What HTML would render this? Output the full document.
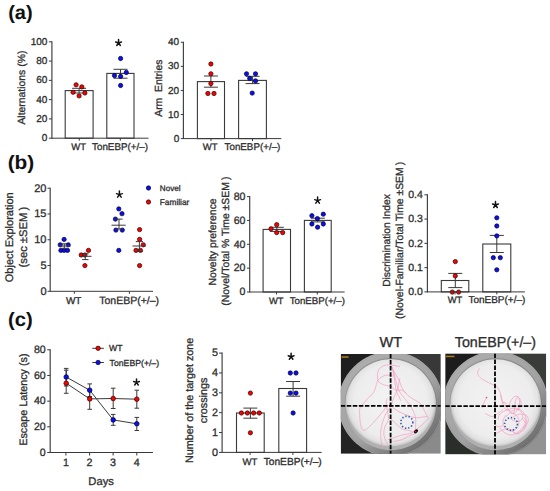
<!DOCTYPE html><html><head><meta charset="utf-8"><style>html,body{margin:0;padding:0;background:#fff;overflow:hidden}svg{display:block}</style></head><body>
<svg width="550" height="491" viewBox="0 0 550 491" font-family='"Liberation Sans", sans-serif' text-rendering="geometricPrecision">
<rect width="550" height="491" fill="#fff"/>
<text x="8.2" y="18.8" font-size="19.5" text-anchor="start" font-weight="bold" fill="#111" textLength="24.5" lengthAdjust="spacingAndGlyphs">(a)</text>
<text x="7.7" y="169.2" font-size="19.5" text-anchor="start" font-weight="bold" fill="#111" textLength="26.6" lengthAdjust="spacingAndGlyphs">(b)</text>
<text x="8.1" y="326.4" font-size="19.5" text-anchor="start" font-weight="bold" fill="#111" textLength="24.7" lengthAdjust="spacingAndGlyphs">(c)</text>
<rect x="65.2" y="90.6" width="27.89999999999999" height="47.599999999999994" fill="#fff" stroke="#3a3a3a" stroke-width="1.1"/>
<rect x="106.8" y="73.4" width="27.200000000000003" height="64.79999999999998" fill="#fff" stroke="#3a3a3a" stroke-width="1.1"/>
<line x1="79.1" y1="88.3" x2="79.1" y2="93.0" stroke="#3a3a3a" stroke-width="1"/>
<line x1="72.1" y1="88.3" x2="86.1" y2="88.3" stroke="#3a3a3a" stroke-width="1"/>
<line x1="72.1" y1="93.0" x2="86.1" y2="93.0" stroke="#3a3a3a" stroke-width="1"/>
<line x1="120.5" y1="69.3" x2="120.5" y2="78.2" stroke="#3a3a3a" stroke-width="1"/>
<line x1="113.5" y1="69.3" x2="127.5" y2="69.3" stroke="#3a3a3a" stroke-width="1"/>
<line x1="113.5" y1="78.2" x2="127.5" y2="78.2" stroke="#3a3a3a" stroke-width="1"/>
<circle cx="76.1" cy="84.8" r="2.15" fill="#fa0000" stroke="#2a0000" stroke-width="0.7"/>
<circle cx="81.8" cy="86.9" r="2.15" fill="#fa0000" stroke="#2a0000" stroke-width="0.7"/>
<circle cx="73.1" cy="92.3" r="2.15" fill="#fa0000" stroke="#2a0000" stroke-width="0.7"/>
<circle cx="84.9" cy="93" r="2.15" fill="#fa0000" stroke="#2a0000" stroke-width="0.7"/>
<circle cx="79.1" cy="95.9" r="2.15" fill="#fa0000" stroke="#2a0000" stroke-width="0.7"/>
<circle cx="120.6" cy="58.5" r="2.15" fill="#0c0cf5" stroke="#00002a" stroke-width="0.7"/>
<circle cx="126.3" cy="72.5" r="2.15" fill="#0c0cf5" stroke="#00002a" stroke-width="0.7"/>
<circle cx="114.5" cy="75.6" r="2.15" fill="#0c0cf5" stroke="#00002a" stroke-width="0.7"/>
<circle cx="120.6" cy="76.4" r="2.15" fill="#0c0cf5" stroke="#00002a" stroke-width="0.7"/>
<circle cx="120.6" cy="85.5" r="2.15" fill="#0c0cf5" stroke="#00002a" stroke-width="0.7"/>
<line x1="51.9" y1="41.3" x2="51.9" y2="138.7" stroke="#444" stroke-width="1.2"/>
<line x1="48.9" y1="138.2" x2="51.9" y2="138.2" stroke="#3a3a3a" stroke-width="1"/>
<text x="47.4" y="141.29999999999998" font-size="10" text-anchor="end" font-weight="normal" fill="#2e2e2e" stroke="#2e2e2e" stroke-width="0.3">0</text>
<line x1="48.9" y1="118.91999999999999" x2="51.9" y2="118.91999999999999" stroke="#3a3a3a" stroke-width="1"/>
<text x="47.4" y="122.01999999999998" font-size="10" text-anchor="end" font-weight="normal" fill="#2e2e2e" stroke="#2e2e2e" stroke-width="0.3">20</text>
<line x1="48.9" y1="99.63999999999999" x2="51.9" y2="99.63999999999999" stroke="#3a3a3a" stroke-width="1"/>
<text x="47.4" y="102.73999999999998" font-size="10" text-anchor="end" font-weight="normal" fill="#2e2e2e" stroke="#2e2e2e" stroke-width="0.3">40</text>
<line x1="48.9" y1="80.35999999999999" x2="51.9" y2="80.35999999999999" stroke="#3a3a3a" stroke-width="1"/>
<text x="47.4" y="83.45999999999998" font-size="10" text-anchor="end" font-weight="normal" fill="#2e2e2e" stroke="#2e2e2e" stroke-width="0.3">60</text>
<line x1="48.9" y1="61.08" x2="51.9" y2="61.08" stroke="#3a3a3a" stroke-width="1"/>
<text x="47.4" y="64.17999999999999" font-size="10" text-anchor="end" font-weight="normal" fill="#2e2e2e" stroke="#2e2e2e" stroke-width="0.3">80</text>
<line x1="48.9" y1="41.8" x2="51.9" y2="41.8" stroke="#3a3a3a" stroke-width="1"/>
<text x="47.4" y="44.9" font-size="10" text-anchor="end" font-weight="normal" fill="#2e2e2e" stroke="#2e2e2e" stroke-width="0.3">100</text>
<line x1="51.9" y1="138.2" x2="148.5" y2="138.2" stroke="#3a3a3a" stroke-width="1"/>
<line x1="79.3" y1="138.2" x2="79.3" y2="140.7" stroke="#3a3a3a" stroke-width="1"/>
<line x1="120.3" y1="138.2" x2="120.3" y2="140.7" stroke="#3a3a3a" stroke-width="1"/>
<path d="M118.55,42.94l0.00,-3.48M118.55,42.94l-2.89,-0.94M118.55,42.94l2.89,-0.94M118.55,42.94l-1.78,2.55M118.55,42.94l1.78,2.55" stroke="#111" stroke-width="1.5" stroke-linecap="round" fill="none"/>
<text x="25.3" y="87.6" font-size="10.4" text-anchor="middle" font-weight="normal" fill="#2e2e2e" stroke="#2e2e2e" stroke-width="0.3" transform="rotate(-90 25.3 87.6)">Alternations (%)</text>
<text x="78.6" y="150.2" font-size="9.5" text-anchor="middle" font-weight="normal" fill="#2e2e2e" stroke="#2e2e2e" stroke-width="0.3">WT</text>
<text x="120.0" y="150.2" font-size="9.8" text-anchor="middle" font-weight="normal" fill="#2e2e2e" stroke="#2e2e2e" stroke-width="0.3">TonEBP(+/&#8211;)</text>
<rect x="197.4" y="81.6" width="27.099999999999994" height="57.0" fill="#fff" stroke="#3a3a3a" stroke-width="1.1"/>
<rect x="238.6" y="80.4" width="27.799999999999983" height="58.19999999999999" fill="#fff" stroke="#3a3a3a" stroke-width="1.1"/>
<line x1="210.9" y1="76.0" x2="210.9" y2="87.2" stroke="#3a3a3a" stroke-width="1"/>
<line x1="203.9" y1="76.0" x2="217.9" y2="76.0" stroke="#3a3a3a" stroke-width="1"/>
<line x1="203.9" y1="87.2" x2="217.9" y2="87.2" stroke="#3a3a3a" stroke-width="1"/>
<line x1="252.6" y1="76.3" x2="252.6" y2="83.6" stroke="#3a3a3a" stroke-width="1"/>
<line x1="245.6" y1="76.3" x2="259.6" y2="76.3" stroke="#3a3a3a" stroke-width="1"/>
<line x1="245.6" y1="83.6" x2="259.6" y2="83.6" stroke="#3a3a3a" stroke-width="1"/>
<circle cx="210.9" cy="64" r="2.15" fill="#fa0000" stroke="#2a0000" stroke-width="0.7"/>
<circle cx="210.9" cy="73.8" r="2.15" fill="#fa0000" stroke="#2a0000" stroke-width="0.7"/>
<circle cx="210.9" cy="83.6" r="2.15" fill="#fa0000" stroke="#2a0000" stroke-width="0.7"/>
<circle cx="207.9" cy="93.5" r="2.15" fill="#fa0000" stroke="#2a0000" stroke-width="0.7"/>
<circle cx="214" cy="93.5" r="2.15" fill="#fa0000" stroke="#2a0000" stroke-width="0.7"/>
<circle cx="246.5" cy="73.8" r="2.15" fill="#0c0cf5" stroke="#00002a" stroke-width="0.7"/>
<circle cx="255.5" cy="73.8" r="2.15" fill="#0c0cf5" stroke="#00002a" stroke-width="0.7"/>
<circle cx="249.7" cy="78.4" r="2.15" fill="#0c0cf5" stroke="#00002a" stroke-width="0.7"/>
<circle cx="255.5" cy="80.9" r="2.15" fill="#0c0cf5" stroke="#00002a" stroke-width="0.7"/>
<circle cx="252.2" cy="93.1" r="2.15" fill="#0c0cf5" stroke="#00002a" stroke-width="0.7"/>
<line x1="183.4" y1="41.8" x2="183.4" y2="139.1" stroke="#444" stroke-width="1.2"/>
<line x1="180.8" y1="138.6" x2="183.4" y2="138.6" stroke="#3a3a3a" stroke-width="1"/>
<text x="179.20000000000002" y="141.7" font-size="10" text-anchor="end" font-weight="normal" fill="#2e2e2e" stroke="#2e2e2e" stroke-width="0.3">0</text>
<line x1="180.8" y1="114.52499999999999" x2="183.4" y2="114.52499999999999" stroke="#3a3a3a" stroke-width="1"/>
<text x="179.20000000000002" y="117.62499999999999" font-size="10" text-anchor="end" font-weight="normal" fill="#2e2e2e" stroke="#2e2e2e" stroke-width="0.3">10</text>
<line x1="180.8" y1="90.44999999999999" x2="183.4" y2="90.44999999999999" stroke="#3a3a3a" stroke-width="1"/>
<text x="179.20000000000002" y="93.54999999999998" font-size="10" text-anchor="end" font-weight="normal" fill="#2e2e2e" stroke="#2e2e2e" stroke-width="0.3">20</text>
<line x1="180.8" y1="66.375" x2="183.4" y2="66.375" stroke="#3a3a3a" stroke-width="1"/>
<text x="179.20000000000002" y="69.475" font-size="10" text-anchor="end" font-weight="normal" fill="#2e2e2e" stroke="#2e2e2e" stroke-width="0.3">30</text>
<line x1="180.8" y1="42.3" x2="183.4" y2="42.3" stroke="#3a3a3a" stroke-width="1"/>
<text x="179.20000000000002" y="45.4" font-size="10" text-anchor="end" font-weight="normal" fill="#2e2e2e" stroke="#2e2e2e" stroke-width="0.3">40</text>
<line x1="183.4" y1="138.6" x2="281.3" y2="138.6" stroke="#3a3a3a" stroke-width="1"/>
<line x1="211" y1="138.6" x2="211" y2="141.1" stroke="#3a3a3a" stroke-width="1"/>
<line x1="252.5" y1="138.6" x2="252.5" y2="141.1" stroke="#3a3a3a" stroke-width="1"/>
<text x="162.3" y="88.2" font-size="10.4" text-anchor="middle" font-weight="normal" fill="#2e2e2e" stroke="#2e2e2e" stroke-width="0.3" transform="rotate(-90 162.3 88.2)">Arm&#160;&#160;Entries</text>
<text x="210.2" y="150.2" font-size="9.5" text-anchor="middle" font-weight="normal" fill="#2e2e2e" stroke="#2e2e2e" stroke-width="0.3">WT</text>
<text x="252.45" y="150.2" font-size="9.8" text-anchor="middle" font-weight="normal" fill="#2e2e2e" stroke="#2e2e2e" stroke-width="0.3">TonEBP(+/&#8211;)</text>
<line x1="50.2" y1="187.7" x2="50.2" y2="291.8" stroke="#444" stroke-width="1.2"/>
<line x1="47.5" y1="291.3" x2="50.2" y2="291.3" stroke="#3a3a3a" stroke-width="1"/>
<text x="46.5" y="294.71000000000004" font-size="11" text-anchor="end" font-weight="normal" fill="#2e2e2e" stroke="#2e2e2e" stroke-width="0.3">0</text>
<line x1="47.5" y1="265.525" x2="50.2" y2="265.525" stroke="#3a3a3a" stroke-width="1"/>
<text x="46.5" y="268.935" font-size="11" text-anchor="end" font-weight="normal" fill="#2e2e2e" stroke="#2e2e2e" stroke-width="0.3">5</text>
<line x1="47.5" y1="239.75" x2="50.2" y2="239.75" stroke="#3a3a3a" stroke-width="1"/>
<text x="46.5" y="243.16" font-size="11" text-anchor="end" font-weight="normal" fill="#2e2e2e" stroke="#2e2e2e" stroke-width="0.3">10</text>
<line x1="47.5" y1="213.975" x2="50.2" y2="213.975" stroke="#3a3a3a" stroke-width="1"/>
<text x="46.5" y="217.385" font-size="11" text-anchor="end" font-weight="normal" fill="#2e2e2e" stroke="#2e2e2e" stroke-width="0.3">15</text>
<line x1="47.5" y1="188.2" x2="50.2" y2="188.2" stroke="#3a3a3a" stroke-width="1"/>
<text x="46.5" y="191.60999999999999" font-size="11" text-anchor="end" font-weight="normal" fill="#2e2e2e" stroke="#2e2e2e" stroke-width="0.3">20</text>
<line x1="50.2" y1="291.3" x2="153" y2="291.3" stroke="#3a3a3a" stroke-width="1"/>
<line x1="74.3" y1="291.3" x2="74.3" y2="293.8" stroke="#3a3a3a" stroke-width="1"/>
<line x1="129.4" y1="291.3" x2="129.4" y2="293.8" stroke="#3a3a3a" stroke-width="1"/>
<circle cx="64.1" cy="239.4" r="2.15" fill="#0c0cf5" stroke="#00002a" stroke-width="0.7"/>
<circle cx="60.2" cy="244.8" r="2.15" fill="#0c0cf5" stroke="#00002a" stroke-width="0.7"/>
<circle cx="68.2" cy="244.8" r="2.15" fill="#0c0cf5" stroke="#00002a" stroke-width="0.7"/>
<circle cx="60.9" cy="250.4" r="2.15" fill="#0c0cf5" stroke="#00002a" stroke-width="0.7"/>
<circle cx="64.1" cy="250.4" r="2.15" fill="#0c0cf5" stroke="#00002a" stroke-width="0.7"/>
<circle cx="67.5" cy="250.4" r="2.15" fill="#0c0cf5" stroke="#00002a" stroke-width="0.7"/>
<line x1="58.4" y1="246" x2="70.7" y2="246" stroke="#3a3a3a" stroke-width="1"/>
<line x1="64.3" y1="243.8" x2="64.3" y2="248.3" stroke="#3a3a3a" stroke-width="1"/>
<line x1="61.3" y1="243.8" x2="67.3" y2="243.8" stroke="#3a3a3a" stroke-width="1"/>
<line x1="61.3" y1="248.3" x2="67.3" y2="248.3" stroke="#3a3a3a" stroke-width="1"/>
<circle cx="88.5" cy="250.4" r="2.15" fill="#fa0000" stroke="#2a0000" stroke-width="0.7"/>
<circle cx="81.2" cy="255" r="2.15" fill="#fa0000" stroke="#2a0000" stroke-width="0.7"/>
<circle cx="84.9" cy="255" r="2.15" fill="#fa0000" stroke="#2a0000" stroke-width="0.7"/>
<circle cx="84.9" cy="265.6" r="2.15" fill="#fa0000" stroke="#2a0000" stroke-width="0.7"/>
<line x1="79.2" y1="256.3" x2="91.5" y2="256.3" stroke="#3a3a3a" stroke-width="1"/>
<line x1="85.3" y1="253.8" x2="85.3" y2="259.6" stroke="#3a3a3a" stroke-width="1"/>
<line x1="82.1" y1="253.8" x2="88.5" y2="253.8" stroke="#3a3a3a" stroke-width="1"/>
<line x1="82.1" y1="259.6" x2="88.5" y2="259.6" stroke="#3a3a3a" stroke-width="1"/>
<circle cx="118.8" cy="208.9" r="2.15" fill="#0c0cf5" stroke="#00002a" stroke-width="0.7"/>
<circle cx="122" cy="213.7" r="2.15" fill="#0c0cf5" stroke="#00002a" stroke-width="0.7"/>
<circle cx="115.4" cy="219.1" r="2.15" fill="#0c0cf5" stroke="#00002a" stroke-width="0.7"/>
<circle cx="115.9" cy="230.1" r="2.15" fill="#0c0cf5" stroke="#00002a" stroke-width="0.7"/>
<circle cx="122.3" cy="230.1" r="2.15" fill="#0c0cf5" stroke="#00002a" stroke-width="0.7"/>
<circle cx="118.8" cy="250.4" r="2.15" fill="#0c0cf5" stroke="#00002a" stroke-width="0.7"/>
<line x1="111.5" y1="225.2" x2="125.7" y2="225.2" stroke="#3a3a3a" stroke-width="1"/>
<line x1="119.0" y1="219.1" x2="119.0" y2="229.0" stroke="#3a3a3a" stroke-width="1"/>
<line x1="115.4" y1="219.1" x2="122.6" y2="219.1" stroke="#3a3a3a" stroke-width="1"/>
<line x1="115.4" y1="229.0" x2="122.6" y2="229.0" stroke="#3a3a3a" stroke-width="1"/>
<circle cx="139.6" cy="229.6" r="2.15" fill="#fa0000" stroke="#2a0000" stroke-width="0.7"/>
<circle cx="139.6" cy="239.4" r="2.15" fill="#fa0000" stroke="#2a0000" stroke-width="0.7"/>
<circle cx="143.3" cy="244.8" r="2.15" fill="#fa0000" stroke="#2a0000" stroke-width="0.7"/>
<circle cx="136" cy="250.4" r="2.15" fill="#fa0000" stroke="#2a0000" stroke-width="0.7"/>
<circle cx="140.4" cy="250.4" r="2.15" fill="#fa0000" stroke="#2a0000" stroke-width="0.7"/>
<circle cx="139.6" cy="265.6" r="2.15" fill="#fa0000" stroke="#2a0000" stroke-width="0.7"/>
<line x1="132.5" y1="246" x2="145.7" y2="246" stroke="#3a3a3a" stroke-width="1"/>
<line x1="139.4" y1="241.6" x2="139.4" y2="251.4" stroke="#3a3a3a" stroke-width="1"/>
<line x1="135.8" y1="241.6" x2="143.0" y2="241.6" stroke="#3a3a3a" stroke-width="1"/>
<line x1="135.8" y1="251.4" x2="143.0" y2="251.4" stroke="#3a3a3a" stroke-width="1"/>
<path d="M119.40,194.60l0.00,-3.48M119.40,194.60l-2.89,-0.94M119.40,194.60l2.89,-0.94M119.40,194.60l-1.78,2.55M119.40,194.60l1.78,2.55" stroke="#111" stroke-width="1.5" stroke-linecap="round" fill="none"/>
<circle cx="148.5" cy="188" r="2.15" fill="#0c0cf5" stroke="#00002a" stroke-width="0.7"/>
<text x="159.8" y="190.8" font-size="8.1" text-anchor="start" font-weight="normal" fill="#2e2e2e" stroke="#2e2e2e" stroke-width="0.3">Novel</text>
<circle cx="148.5" cy="202" r="2.15" fill="#fa0000" stroke="#2a0000" stroke-width="0.7"/>
<text x="159.8" y="204.6" font-size="8.3" text-anchor="start" font-weight="normal" fill="#2e2e2e" stroke="#2e2e2e" stroke-width="0.3">Familiar</text>
<text x="13.2" y="237.25" font-size="11.0" text-anchor="middle" font-weight="normal" fill="#2e2e2e" stroke="#2e2e2e" stroke-width="0.3" transform="rotate(-90 13.2 237.25)">Object Exploration</text>
<text x="27.2" y="237.1" font-size="11.2" text-anchor="middle" font-weight="normal" fill="#2e2e2e" stroke="#2e2e2e" stroke-width="0.3" transform="rotate(-90 27.2 237.1)">(sec &#177;SEM&#8201;)</text>
<text x="73.7" y="303.6" font-size="10" text-anchor="middle" font-weight="normal" fill="#2e2e2e" stroke="#2e2e2e" stroke-width="0.3">WT</text>
<text x="129.2" y="303.6" font-size="10.5" text-anchor="middle" font-weight="normal" fill="#2e2e2e" stroke="#2e2e2e" stroke-width="0.3">TonEBP(+/&#8211;)</text>
<rect x="263.1" y="229.4" width="27.399999999999977" height="62.599999999999994" fill="#fff" stroke="#3a3a3a" stroke-width="1.1"/>
<rect x="304.4" y="220.4" width="26.80000000000001" height="71.6" fill="#fff" stroke="#3a3a3a" stroke-width="1.1"/>
<line x1="276.8" y1="227.3" x2="276.8" y2="231.4" stroke="#3a3a3a" stroke-width="1"/>
<line x1="269.8" y1="227.3" x2="283.8" y2="227.3" stroke="#3a3a3a" stroke-width="1"/>
<line x1="269.8" y1="231.4" x2="283.8" y2="231.4" stroke="#3a3a3a" stroke-width="1"/>
<line x1="317.8" y1="218.2" x2="317.8" y2="221.9" stroke="#3a3a3a" stroke-width="1"/>
<line x1="310.8" y1="218.2" x2="324.8" y2="218.2" stroke="#3a3a3a" stroke-width="1"/>
<line x1="310.8" y1="221.9" x2="324.8" y2="221.9" stroke="#3a3a3a" stroke-width="1"/>
<circle cx="276.7" cy="224.7" r="2.15" fill="#fa0000" stroke="#2a0000" stroke-width="0.7"/>
<circle cx="271" cy="228.8" r="2.15" fill="#fa0000" stroke="#2a0000" stroke-width="0.7"/>
<circle cx="276.7" cy="232.6" r="2.15" fill="#fa0000" stroke="#2a0000" stroke-width="0.7"/>
<circle cx="282.7" cy="232.6" r="2.15" fill="#fa0000" stroke="#2a0000" stroke-width="0.7"/>
<circle cx="311.9" cy="215.7" r="2.15" fill="#0c0cf5" stroke="#00002a" stroke-width="0.7"/>
<circle cx="323.3" cy="214.2" r="2.15" fill="#0c0cf5" stroke="#00002a" stroke-width="0.7"/>
<circle cx="317.4" cy="218.6" r="2.15" fill="#0c0cf5" stroke="#00002a" stroke-width="0.7"/>
<circle cx="311.9" cy="224" r="2.15" fill="#0c0cf5" stroke="#00002a" stroke-width="0.7"/>
<circle cx="323.3" cy="224" r="2.15" fill="#0c0cf5" stroke="#00002a" stroke-width="0.7"/>
<circle cx="317.6" cy="227.2" r="2.15" fill="#0c0cf5" stroke="#00002a" stroke-width="0.7"/>
<line x1="249.7" y1="196.1" x2="249.7" y2="292.5" stroke="#444" stroke-width="1.2"/>
<line x1="247.0" y1="292.0" x2="249.7" y2="292.0" stroke="#3a3a3a" stroke-width="1"/>
<text x="245.5" y="295.286" font-size="10.6" text-anchor="end" font-weight="normal" fill="#2e2e2e" stroke="#2e2e2e" stroke-width="0.3">0</text>
<line x1="247.0" y1="268.15" x2="249.7" y2="268.15" stroke="#3a3a3a" stroke-width="1"/>
<text x="245.5" y="271.436" font-size="10.6" text-anchor="end" font-weight="normal" fill="#2e2e2e" stroke="#2e2e2e" stroke-width="0.3">20</text>
<line x1="247.0" y1="244.3" x2="249.7" y2="244.3" stroke="#3a3a3a" stroke-width="1"/>
<text x="245.5" y="247.586" font-size="10.6" text-anchor="end" font-weight="normal" fill="#2e2e2e" stroke="#2e2e2e" stroke-width="0.3">40</text>
<line x1="247.0" y1="220.45" x2="249.7" y2="220.45" stroke="#3a3a3a" stroke-width="1"/>
<text x="245.5" y="223.736" font-size="10.6" text-anchor="end" font-weight="normal" fill="#2e2e2e" stroke="#2e2e2e" stroke-width="0.3">60</text>
<line x1="247.0" y1="196.6" x2="249.7" y2="196.6" stroke="#3a3a3a" stroke-width="1"/>
<text x="245.5" y="199.886" font-size="10.6" text-anchor="end" font-weight="normal" fill="#2e2e2e" stroke="#2e2e2e" stroke-width="0.3">80</text>
<line x1="249.7" y1="292.0" x2="344.6" y2="292.0" stroke="#3a3a3a" stroke-width="1"/>
<line x1="276.5" y1="292.0" x2="276.5" y2="294.5" stroke="#3a3a3a" stroke-width="1"/>
<line x1="317.3" y1="292.0" x2="317.3" y2="294.5" stroke="#3a3a3a" stroke-width="1"/>
<path d="M317.60,200.60l0.00,-3.48M317.60,200.60l-2.89,-0.94M317.60,200.60l2.89,-0.94M317.60,200.60l-1.78,2.55M317.60,200.60l1.78,2.55" stroke="#111" stroke-width="1.5" stroke-linecap="round" fill="none"/>
<text x="216.0" y="242.0" font-size="10.4" text-anchor="middle" font-weight="normal" fill="#2e2e2e" stroke="#2e2e2e" stroke-width="0.3" transform="rotate(-90 216.0 242.0)">Novelty preference</text>
<text x="228.8" y="241.15" font-size="10.4" text-anchor="middle" font-weight="normal" fill="#2e2e2e" stroke="#2e2e2e" stroke-width="0.3" transform="rotate(-90 228.8 241.15)">(Novel/Total % Time &#177;SEM&#8201;)</text>
<text x="276.2" y="303.6" font-size="9.4" text-anchor="middle" font-weight="normal" fill="#2e2e2e" stroke="#2e2e2e" stroke-width="0.3">WT</text>
<text x="317.3" y="303.6" font-size="9.7" text-anchor="middle" font-weight="normal" fill="#2e2e2e" stroke="#2e2e2e" stroke-width="0.3">TonEBP(+/&#8211;)</text>
<rect x="441.3" y="280.5" width="27.5" height="11.399999999999977" fill="#fff" stroke="#3a3a3a" stroke-width="1.1"/>
<rect x="482.8" y="244.0" width="28.0" height="47.89999999999998" fill="#fff" stroke="#3a3a3a" stroke-width="1.1"/>
<line x1="455.3" y1="273.4" x2="455.3" y2="287.6" stroke="#3a3a3a" stroke-width="1"/>
<line x1="448.3" y1="273.4" x2="462.3" y2="273.4" stroke="#3a3a3a" stroke-width="1"/>
<line x1="448.3" y1="287.6" x2="462.3" y2="287.6" stroke="#3a3a3a" stroke-width="1"/>
<line x1="496.8" y1="235.4" x2="496.8" y2="252.5" stroke="#3a3a3a" stroke-width="1"/>
<line x1="489.8" y1="235.4" x2="503.8" y2="235.4" stroke="#3a3a3a" stroke-width="1"/>
<line x1="489.8" y1="252.5" x2="503.8" y2="252.5" stroke="#3a3a3a" stroke-width="1"/>
<circle cx="455.3" cy="261.6" r="2.15" fill="#fa0000" stroke="#2a0000" stroke-width="0.7"/>
<circle cx="455.3" cy="275.9" r="2.15" fill="#fa0000" stroke="#2a0000" stroke-width="0.7"/>
<circle cx="452.3" cy="292.1" r="2.15" fill="#fa0000" stroke="#2a0000" stroke-width="0.7"/>
<circle cx="458.6" cy="292.1" r="2.15" fill="#fa0000" stroke="#2a0000" stroke-width="0.7"/>
<circle cx="496.8" cy="217.8" r="2.15" fill="#0c0cf5" stroke="#00002a" stroke-width="0.7"/>
<circle cx="496.8" cy="226" r="2.15" fill="#0c0cf5" stroke="#00002a" stroke-width="0.7"/>
<circle cx="496.8" cy="235.9" r="2.15" fill="#0c0cf5" stroke="#00002a" stroke-width="0.7"/>
<circle cx="493.3" cy="257.7" r="2.15" fill="#0c0cf5" stroke="#00002a" stroke-width="0.7"/>
<circle cx="500.3" cy="257.7" r="2.15" fill="#0c0cf5" stroke="#00002a" stroke-width="0.7"/>
<circle cx="496.8" cy="269.8" r="2.15" fill="#0c0cf5" stroke="#00002a" stroke-width="0.7"/>
<line x1="427.4" y1="194.3" x2="427.4" y2="292.4" stroke="#444" stroke-width="1.2"/>
<line x1="424.4" y1="291.9" x2="427.4" y2="291.9" stroke="#3a3a3a" stroke-width="1"/>
<text x="422.9" y="295.155" font-size="10.5" text-anchor="end" font-weight="normal" fill="#2e2e2e" stroke="#2e2e2e" stroke-width="0.3">0.0</text>
<line x1="424.4" y1="267.625" x2="427.4" y2="267.625" stroke="#3a3a3a" stroke-width="1"/>
<text x="422.9" y="270.88" font-size="10.5" text-anchor="end" font-weight="normal" fill="#2e2e2e" stroke="#2e2e2e" stroke-width="0.3">0.1</text>
<line x1="424.4" y1="243.35" x2="427.4" y2="243.35" stroke="#3a3a3a" stroke-width="1"/>
<text x="422.9" y="246.605" font-size="10.5" text-anchor="end" font-weight="normal" fill="#2e2e2e" stroke="#2e2e2e" stroke-width="0.3">0.2</text>
<line x1="424.4" y1="219.075" x2="427.4" y2="219.075" stroke="#3a3a3a" stroke-width="1"/>
<text x="422.9" y="222.32999999999998" font-size="10.5" text-anchor="end" font-weight="normal" fill="#2e2e2e" stroke="#2e2e2e" stroke-width="0.3">0.3</text>
<line x1="424.4" y1="194.8" x2="427.4" y2="194.8" stroke="#3a3a3a" stroke-width="1"/>
<text x="422.9" y="198.055" font-size="10.5" text-anchor="end" font-weight="normal" fill="#2e2e2e" stroke="#2e2e2e" stroke-width="0.3">0.4</text>
<line x1="427.4" y1="291.9" x2="524.9" y2="291.9" stroke="#3a3a3a" stroke-width="1"/>
<line x1="455" y1="291.9" x2="455" y2="294.4" stroke="#3a3a3a" stroke-width="1"/>
<line x1="496.8" y1="291.9" x2="496.8" y2="294.4" stroke="#3a3a3a" stroke-width="1"/>
<path d="M495.50,205.00l0.00,-3.48M495.50,205.00l-2.89,-0.94M495.50,205.00l2.89,-0.94M495.50,205.00l-1.78,2.55M495.50,205.00l1.78,2.55" stroke="#111" stroke-width="1.5" stroke-linecap="round" fill="none"/>
<text x="389.8" y="240.5" font-size="10.3" text-anchor="middle" font-weight="normal" fill="#2e2e2e" stroke="#2e2e2e" stroke-width="0.3" transform="rotate(-90 389.8 240.5)">Discrimination Index</text>
<text x="403.3" y="240.4" font-size="10.4" text-anchor="middle" font-weight="normal" fill="#2e2e2e" stroke="#2e2e2e" stroke-width="0.3" transform="rotate(-90 403.3 240.4)">(Novel-Familiar/Total Time &#177;SEM&#8201;)</text>
<text x="455" y="303.3" font-size="9.4" text-anchor="middle" font-weight="normal" fill="#2e2e2e" stroke="#2e2e2e" stroke-width="0.3">WT</text>
<text x="496.9" y="303.3" font-size="10.0" text-anchor="middle" font-weight="normal" fill="#2e2e2e" stroke="#2e2e2e" stroke-width="0.3">TonEBP(+/&#8211;)</text>
<line x1="50.2" y1="349.3" x2="50.2" y2="453.0" stroke="#444" stroke-width="1.2"/>
<line x1="47.2" y1="452.5" x2="50.2" y2="452.5" stroke="#3a3a3a" stroke-width="1"/>
<text x="45.7" y="455.786" font-size="10.6" text-anchor="end" font-weight="normal" fill="#2e2e2e" stroke="#2e2e2e" stroke-width="0.3">0</text>
<line x1="47.2" y1="426.825" x2="50.2" y2="426.825" stroke="#3a3a3a" stroke-width="1"/>
<text x="45.7" y="430.111" font-size="10.6" text-anchor="end" font-weight="normal" fill="#2e2e2e" stroke="#2e2e2e" stroke-width="0.3">20</text>
<line x1="47.2" y1="401.15" x2="50.2" y2="401.15" stroke="#3a3a3a" stroke-width="1"/>
<text x="45.7" y="404.436" font-size="10.6" text-anchor="end" font-weight="normal" fill="#2e2e2e" stroke="#2e2e2e" stroke-width="0.3">40</text>
<line x1="47.2" y1="375.475" x2="50.2" y2="375.475" stroke="#3a3a3a" stroke-width="1"/>
<text x="45.7" y="378.761" font-size="10.6" text-anchor="end" font-weight="normal" fill="#2e2e2e" stroke="#2e2e2e" stroke-width="0.3">60</text>
<line x1="47.2" y1="349.8" x2="50.2" y2="349.8" stroke="#3a3a3a" stroke-width="1"/>
<text x="45.7" y="353.086" font-size="10.6" text-anchor="end" font-weight="normal" fill="#2e2e2e" stroke="#2e2e2e" stroke-width="0.3">80</text>
<line x1="50.2" y1="452.5" x2="153" y2="452.5" stroke="#3a3a3a" stroke-width="1"/>
<line x1="65.9" y1="452.5" x2="65.9" y2="455.5" stroke="#3a3a3a" stroke-width="1"/>
<line x1="89.6" y1="452.5" x2="89.6" y2="455.5" stroke="#3a3a3a" stroke-width="1"/>
<line x1="113.1" y1="452.5" x2="113.1" y2="455.5" stroke="#3a3a3a" stroke-width="1"/>
<line x1="136.8" y1="452.5" x2="136.8" y2="455.5" stroke="#3a3a3a" stroke-width="1"/>
<text x="65.9" y="466.2" font-size="10.7" text-anchor="middle" font-weight="normal" fill="#2e2e2e" stroke="#2e2e2e" stroke-width="0.3">1</text>
<text x="89.6" y="466.2" font-size="10.7" text-anchor="middle" font-weight="normal" fill="#2e2e2e" stroke="#2e2e2e" stroke-width="0.3">2</text>
<text x="113.1" y="466.2" font-size="10.7" text-anchor="middle" font-weight="normal" fill="#2e2e2e" stroke="#2e2e2e" stroke-width="0.3">3</text>
<text x="136.8" y="466.2" font-size="10.7" text-anchor="middle" font-weight="normal" fill="#2e2e2e" stroke="#2e2e2e" stroke-width="0.3">4</text>
<text x="101.1" y="484.6" font-size="11.2" text-anchor="middle" font-weight="normal" fill="#2e2e2e" stroke="#2e2e2e" stroke-width="0.3">Days</text>
<line x1="66.2" y1="370.2" x2="66.2" y2="393.3" stroke="#3a3a3a" stroke-width="1"/>
<line x1="63.900000000000006" y1="370.2" x2="68.5" y2="370.2" stroke="#3a3a3a" stroke-width="1"/>
<line x1="63.900000000000006" y1="393.3" x2="68.5" y2="393.3" stroke="#3a3a3a" stroke-width="1"/>
<line x1="66.2" y1="368.4" x2="66.2" y2="386.0" stroke="#3a3a3a" stroke-width="1"/>
<line x1="63.900000000000006" y1="368.4" x2="68.5" y2="368.4" stroke="#3a3a3a" stroke-width="1"/>
<line x1="63.900000000000006" y1="386.0" x2="68.5" y2="386.0" stroke="#3a3a3a" stroke-width="1"/>
<line x1="89.7" y1="389.5" x2="89.7" y2="409.3" stroke="#3a3a3a" stroke-width="1"/>
<line x1="87.4" y1="389.5" x2="92.0" y2="389.5" stroke="#3a3a3a" stroke-width="1"/>
<line x1="87.4" y1="409.3" x2="92.0" y2="409.3" stroke="#3a3a3a" stroke-width="1"/>
<line x1="89.7" y1="383.9" x2="89.7" y2="396.5" stroke="#3a3a3a" stroke-width="1"/>
<line x1="87.4" y1="383.9" x2="92.0" y2="383.9" stroke="#3a3a3a" stroke-width="1"/>
<line x1="87.4" y1="396.5" x2="92.0" y2="396.5" stroke="#3a3a3a" stroke-width="1"/>
<line x1="113.2" y1="388.2" x2="113.2" y2="408.5" stroke="#3a3a3a" stroke-width="1"/>
<line x1="110.9" y1="388.2" x2="115.5" y2="388.2" stroke="#3a3a3a" stroke-width="1"/>
<line x1="110.9" y1="408.5" x2="115.5" y2="408.5" stroke="#3a3a3a" stroke-width="1"/>
<line x1="113.2" y1="414.4" x2="113.2" y2="425.3" stroke="#3a3a3a" stroke-width="1"/>
<line x1="110.9" y1="414.4" x2="115.5" y2="414.4" stroke="#3a3a3a" stroke-width="1"/>
<line x1="110.9" y1="425.3" x2="115.5" y2="425.3" stroke="#3a3a3a" stroke-width="1"/>
<line x1="136.8" y1="390.2" x2="136.8" y2="408.2" stroke="#3a3a3a" stroke-width="1"/>
<line x1="134.5" y1="390.2" x2="139.10000000000002" y2="390.2" stroke="#3a3a3a" stroke-width="1"/>
<line x1="134.5" y1="408.2" x2="139.10000000000002" y2="408.2" stroke="#3a3a3a" stroke-width="1"/>
<line x1="136.8" y1="417.4" x2="136.8" y2="430.5" stroke="#3a3a3a" stroke-width="1"/>
<line x1="134.5" y1="417.4" x2="139.10000000000002" y2="417.4" stroke="#3a3a3a" stroke-width="1"/>
<line x1="134.5" y1="430.5" x2="139.10000000000002" y2="430.5" stroke="#3a3a3a" stroke-width="1"/>
<polyline points="66.2,383.2 89.7,398.9 113.2,398.5 136.8,399.2" fill="none" stroke="#3a3a3a" stroke-width="1"/>
<polyline points="66.2,377.0 89.7,390.2 113.2,419.9 136.8,423.8" fill="none" stroke="#3a3a3a" stroke-width="1"/>
<circle cx="66.2" cy="383.2" r="2.3" fill="#fa0000" stroke="#2a0000" stroke-width="0.7"/>
<circle cx="66.2" cy="377.0" r="2.3" fill="#0c0cf5" stroke="#00002a" stroke-width="0.7"/>
<circle cx="89.7" cy="398.9" r="2.3" fill="#fa0000" stroke="#2a0000" stroke-width="0.7"/>
<circle cx="89.7" cy="390.2" r="2.3" fill="#0c0cf5" stroke="#00002a" stroke-width="0.7"/>
<circle cx="113.2" cy="398.5" r="2.3" fill="#fa0000" stroke="#2a0000" stroke-width="0.7"/>
<circle cx="113.2" cy="419.9" r="2.3" fill="#0c0cf5" stroke="#00002a" stroke-width="0.7"/>
<circle cx="136.8" cy="399.2" r="2.3" fill="#fa0000" stroke="#2a0000" stroke-width="0.7"/>
<circle cx="136.8" cy="423.8" r="2.3" fill="#0c0cf5" stroke="#00002a" stroke-width="0.7"/>
<path d="M136.50,382.40l0.00,-3.48M136.50,382.40l-2.89,-0.94M136.50,382.40l2.89,-0.94M136.50,382.40l-1.78,2.55M136.50,382.40l1.78,2.55" stroke="#111" stroke-width="1.5" stroke-linecap="round" fill="none"/>
<line x1="92.3" y1="348.3" x2="103.9" y2="348.3" stroke="#3a3a3a" stroke-width="1"/>
<circle cx="98.1" cy="348.3" r="2.2" fill="#fa0000" stroke="#2a0000" stroke-width="0.7"/>
<line x1="92.3" y1="362.5" x2="103.9" y2="362.5" stroke="#3a3a3a" stroke-width="1"/>
<circle cx="98.1" cy="362.5" r="2.2" fill="#0c0cf5" stroke="#00002a" stroke-width="0.7"/>
<text x="109.0" y="351.3" font-size="8.7" text-anchor="start" font-weight="normal" fill="#2e2e2e" stroke="#2e2e2e" stroke-width="0.3">WT</text>
<text x="109.6" y="365.5" font-size="8.7" text-anchor="start" font-weight="normal" fill="#2e2e2e" stroke="#2e2e2e" stroke-width="0.3">TonEBP(+/&#8211;)</text>
<text x="27.3" y="399.6" font-size="10.8" text-anchor="middle" font-weight="normal" fill="#2e2e2e" stroke="#2e2e2e" stroke-width="0.3" transform="rotate(-90 27.3 399.6)">Escape Latency (s)</text>
<rect x="236.5" y="413.0" width="27.69999999999999" height="39.39999999999998" fill="#fff" stroke="#3a3a3a" stroke-width="1.1"/>
<rect x="278.8" y="388.5" width="27.80000000000001" height="63.89999999999998" fill="#fff" stroke="#3a3a3a" stroke-width="1.1"/>
<line x1="250.4" y1="408.1" x2="250.4" y2="418.2" stroke="#3a3a3a" stroke-width="1"/>
<line x1="243.4" y1="408.1" x2="257.4" y2="408.1" stroke="#3a3a3a" stroke-width="1"/>
<line x1="243.4" y1="418.2" x2="257.4" y2="418.2" stroke="#3a3a3a" stroke-width="1"/>
<line x1="293.1" y1="381.5" x2="293.1" y2="396.2" stroke="#3a3a3a" stroke-width="1"/>
<line x1="286.1" y1="381.5" x2="300.1" y2="381.5" stroke="#3a3a3a" stroke-width="1"/>
<line x1="286.1" y1="396.2" x2="300.1" y2="396.2" stroke="#3a3a3a" stroke-width="1"/>
<circle cx="250.4" cy="393.1" r="2.15" fill="#fa0000" stroke="#2a0000" stroke-width="0.7"/>
<circle cx="241.4" cy="413" r="2.15" fill="#fa0000" stroke="#2a0000" stroke-width="0.7"/>
<circle cx="247.4" cy="413" r="2.15" fill="#fa0000" stroke="#2a0000" stroke-width="0.7"/>
<circle cx="253.6" cy="413" r="2.15" fill="#fa0000" stroke="#2a0000" stroke-width="0.7"/>
<circle cx="259.3" cy="413" r="2.15" fill="#fa0000" stroke="#2a0000" stroke-width="0.7"/>
<circle cx="250.4" cy="432.8" r="2.15" fill="#fa0000" stroke="#2a0000" stroke-width="0.7"/>
<circle cx="290.3" cy="373" r="2.15" fill="#0c0cf5" stroke="#00002a" stroke-width="0.7"/>
<circle cx="296" cy="373" r="2.15" fill="#0c0cf5" stroke="#00002a" stroke-width="0.7"/>
<circle cx="290.3" cy="393.1" r="2.15" fill="#0c0cf5" stroke="#00002a" stroke-width="0.7"/>
<circle cx="296" cy="393.1" r="2.15" fill="#0c0cf5" stroke="#00002a" stroke-width="0.7"/>
<circle cx="293.1" cy="413" r="2.15" fill="#0c0cf5" stroke="#00002a" stroke-width="0.7"/>
<line x1="222.1" y1="352.6" x2="222.1" y2="452.9" stroke="#444" stroke-width="1.2"/>
<line x1="219.0" y1="452.4" x2="222.1" y2="452.4" stroke="#3a3a3a" stroke-width="1"/>
<text x="218.0" y="455.748" font-size="10.8" text-anchor="end" font-weight="normal" fill="#2e2e2e" stroke="#2e2e2e" stroke-width="0.3">0</text>
<line x1="219.0" y1="432.53999999999996" x2="222.1" y2="432.53999999999996" stroke="#3a3a3a" stroke-width="1"/>
<text x="218.0" y="435.888" font-size="10.8" text-anchor="end" font-weight="normal" fill="#2e2e2e" stroke="#2e2e2e" stroke-width="0.3">1</text>
<line x1="219.0" y1="412.68" x2="222.1" y2="412.68" stroke="#3a3a3a" stroke-width="1"/>
<text x="218.0" y="416.028" font-size="10.8" text-anchor="end" font-weight="normal" fill="#2e2e2e" stroke="#2e2e2e" stroke-width="0.3">2</text>
<line x1="219.0" y1="392.82" x2="222.1" y2="392.82" stroke="#3a3a3a" stroke-width="1"/>
<text x="218.0" y="396.168" font-size="10.8" text-anchor="end" font-weight="normal" fill="#2e2e2e" stroke="#2e2e2e" stroke-width="0.3">3</text>
<line x1="219.0" y1="372.96000000000004" x2="222.1" y2="372.96000000000004" stroke="#3a3a3a" stroke-width="1"/>
<text x="218.0" y="376.30800000000005" font-size="10.8" text-anchor="end" font-weight="normal" fill="#2e2e2e" stroke="#2e2e2e" stroke-width="0.3">4</text>
<line x1="219.0" y1="353.1" x2="222.1" y2="353.1" stroke="#3a3a3a" stroke-width="1"/>
<text x="218.0" y="356.44800000000004" font-size="10.8" text-anchor="end" font-weight="normal" fill="#2e2e2e" stroke="#2e2e2e" stroke-width="0.3">5</text>
<line x1="222.1" y1="452.4" x2="321.7" y2="452.4" stroke="#3a3a3a" stroke-width="1"/>
<line x1="250.1" y1="452.4" x2="250.1" y2="454.9" stroke="#3a3a3a" stroke-width="1"/>
<line x1="292.9" y1="452.4" x2="292.9" y2="454.9" stroke="#3a3a3a" stroke-width="1"/>
<path d="M291.10,356.70l0.00,-3.48M291.10,356.70l-2.89,-0.94M291.10,356.70l2.89,-0.94M291.10,356.70l-1.78,2.55M291.10,356.70l1.78,2.55" stroke="#111" stroke-width="1.5" stroke-linecap="round" fill="none"/>
<text x="193.5" y="400.4" font-size="10.8" text-anchor="middle" font-weight="normal" fill="#2e2e2e" stroke="#2e2e2e" stroke-width="0.3" transform="rotate(-90 193.5 400.4)">Number of the target zone</text>
<text x="207.0" y="400.4" font-size="10.8" text-anchor="middle" font-weight="normal" fill="#2e2e2e" stroke="#2e2e2e" stroke-width="0.3" transform="rotate(-90 207.0 400.4)">crossings</text>
<text x="250" y="464.8" font-size="9.6" text-anchor="middle" font-weight="normal" fill="#2e2e2e" stroke="#2e2e2e" stroke-width="0.3">WT</text>
<text x="292.7" y="464.8" font-size="10.2" text-anchor="middle" font-weight="normal" fill="#2e2e2e" stroke="#2e2e2e" stroke-width="0.3">TonEBP(+/&#8211;)</text>
<text x="390.85" y="346.7" font-size="14.5" text-anchor="middle" font-weight="normal" fill="#2e2e2e" stroke="#2e2e2e" stroke-width="0.3">WT</text>
<text x="495.4" y="346.7" font-size="14.5" text-anchor="middle" font-weight="normal" fill="#2e2e2e" stroke="#2e2e2e" stroke-width="0.3" textLength="81.3" lengthAdjust="spacingAndGlyphs">TonEBP(+/&#8211;)</text>
<defs>
<linearGradient id="rimlin" x1="0.15" y1="0.1" x2="0.85" y2="0.95">
<stop offset="0" stop-color="#adadad"/><stop offset="0.55" stop-color="#a2a2a2"/><stop offset="1" stop-color="#666"/></linearGradient>
<radialGradient id="rim" cx="0.5" cy="0.5" r="0.5">
<stop offset="0.86" stop-color="#000" stop-opacity="0.18"/><stop offset="0.885" stop-color="#000" stop-opacity="0"/><stop offset="0.96" stop-color="#000" stop-opacity="0"/><stop offset="1" stop-color="#000" stop-opacity="0.15"/></radialGradient>
<radialGradient id="surf" cx="0.5" cy="0.46" r="0.5">
<stop offset="0" stop-color="#f3f3f3"/><stop offset="0.8" stop-color="#ededed"/><stop offset="0.93" stop-color="#e2e2e2"/><stop offset="0.98" stop-color="#cdcdcd"/><stop offset="1" stop-color="#b0b0b0"/></radialGradient>
</defs>
<clipPath id="clip1"><rect x="340.7" y="354.0" width="100.1" height="99.8"/></clipPath>
<g clip-path="url(#clip1)">
<rect x="340.7" y="354.0" width="50.55" height="50.4" fill="#1e1e1e"/>
<rect x="390.75" y="354.0" width="50.05" height="50.4" fill="#383838"/>
<rect x="340.7" y="403.9" width="50.55" height="49.9" fill="#232323"/>
<rect x="390.75" y="403.9" width="50.05" height="49.9" fill="#8a8a8a"/>
<circle cx="390.7" cy="404.0" r="52.5" fill="url(#rimlin)"/>
<circle cx="390.7" cy="404.0" r="52.5" fill="url(#rim)"/>
<circle cx="390.7" cy="404.0" r="52.0" fill="none" stroke="#c4c4c4" stroke-width="0.6" opacity="0.8"/>
<circle cx="390.7" cy="404.8" r="45.5" fill="url(#surf)"/>
<path d="M399.9,366.4 C398.6,366.2 394.3,365.4 392.0,365.2 C389.7,365.0 388.1,364.6 386.2,365.0 C384.3,365.4 382.1,366.2 380.7,367.3 C379.3,368.4 378.4,370.1 377.9,371.9 C377.4,373.7 377.4,376.6 377.5,378.3 C377.6,380.0 378.0,381.0 378.8,382.0 C379.6,383.0 381.1,383.7 382.5,384.3 C383.9,384.9 385.7,385.3 387.1,385.7 C388.5,386.1 389.2,385.9 390.7,386.6 C392.2,387.4 394.4,389.6 396.2,390.2 C398.0,390.8 400.0,389.7 401.7,390.2 C403.4,390.7 405.5,392.5 406.3,393.0" fill="none" stroke="#f59cc2" stroke-width="0.7" stroke-linejoin="round"/>
<path d="M393.5,376.0 C392.4,375.9 388.8,375.1 387.1,375.1 C385.4,375.1 384.6,375.5 383.4,376.0 C382.2,376.5 380.6,377.6 379.7,378.3 C378.8,379.0 378.4,379.3 377.9,380.2 C377.4,381.1 377.0,382.1 376.5,383.8 C376.0,385.5 375.5,388.4 374.7,390.2 C373.9,392.0 372.8,393.3 371.5,394.8 C370.2,396.3 368.3,397.9 366.9,399.4 C365.5,400.9 364.2,402.9 363.2,404.0 C362.2,405.1 361.6,404.9 361.0,406.0 C360.4,407.1 359.8,407.8 359.6,410.3 C359.5,412.9 359.7,418.2 360.1,421.3 C360.5,424.4 361.1,427.2 361.9,428.7 C362.7,430.1 363.6,430.2 364.7,430.0 C365.8,429.8 366.8,429.0 368.3,427.7 C369.8,426.4 372.0,424.2 373.8,422.2 C375.6,420.2 377.6,417.8 379.3,415.8 C381.0,413.8 382.7,411.8 383.9,410.3 C385.1,408.8 385.4,407.8 386.7,406.7 C388.0,405.6 390.9,404.4 391.7,404.0" fill="none" stroke="#f59cc2" stroke-width="0.7" stroke-linejoin="round"/>
<path d="M391.7,365.5 C392.0,366.9 392.8,369.6 393.5,373.7 C394.2,377.8 395.3,386.4 396.2,390.2 C397.1,394.0 398.2,394.9 399.0,396.7 C399.8,398.5 400.7,400.3 401.0,401.0" fill="none" stroke="#f59cc2" stroke-width="0.7" stroke-linejoin="round"/>
<path d="M399.9,378.3 C399.4,380.3 398.3,386.8 397.2,390.2 C396.1,393.6 394.4,396.2 393.5,398.5 C392.6,400.8 392.5,402.1 391.7,404.0 C390.9,405.9 389.5,408.3 388.5,410.0 C387.5,411.7 386.8,411.6 385.7,414.0 C384.6,416.4 382.9,421.1 382.1,424.1 C381.3,427.2 380.9,429.4 380.7,432.3 C380.5,435.2 380.8,439.1 381.2,441.5 C381.6,443.9 382.7,446.1 383.0,447.0" fill="none" stroke="#f59cc2" stroke-width="0.7" stroke-linejoin="round"/>
<path d="M387.1,398.5 C387.0,399.4 386.0,400.6 386.2,404.0 C386.4,407.4 388.7,414.8 388.5,418.6 C388.3,422.4 385.6,424.1 384.8,426.8 C384.0,429.6 383.6,432.5 383.9,435.1 C384.2,437.7 385.8,440.4 386.7,442.4 C387.6,444.4 388.9,446.2 389.4,447.0" fill="none" stroke="#f59cc2" stroke-width="0.7" stroke-linejoin="round"/>
<path d="M390.7,365.5 C391.2,366.4 392.4,367.6 393.5,371.0 C394.6,374.4 396.1,382.2 397.2,385.7 C398.3,389.2 398.7,390.0 399.9,392.1 C401.1,394.2 403.0,396.5 404.5,398.5 C406.0,400.5 407.7,402.1 409.1,404.0 C410.5,405.9 411.6,407.7 412.7,410.0 C413.8,412.3 415.0,414.4 415.5,417.7 C416.0,421.0 415.5,427.6 415.5,429.6" fill="none" stroke="#f59cc2" stroke-width="0.7" stroke-linejoin="round"/>
<path d="M392.6,369.2 C393.7,371.0 397.3,376.8 399.0,380.2 C400.7,383.6 401.3,386.9 402.7,389.3 C404.1,391.7 405.4,393.1 407.2,394.8 C409.0,396.5 411.4,397.9 413.7,399.4 C416.0,400.9 419.3,402.2 421.0,404.0 C422.7,405.8 422.9,407.9 424.0,410.0 C425.1,412.1 426.8,415.6 427.4,416.7" fill="none" stroke="#f59cc2" stroke-width="0.7" stroke-linejoin="round"/>
<path d="M392.6,407.6 C393.8,408.4 397.6,411.0 399.9,412.2 C402.2,413.4 403.7,414.0 406.3,414.9 C408.9,415.8 412.1,417.4 415.5,417.7 C418.9,418.0 424.4,416.5 426.5,416.7 C428.6,416.9 428.9,417.4 428.3,418.6 C427.7,419.8 424.8,422.3 422.8,424.1 C420.8,425.9 418.4,428.1 416.4,429.6 C414.4,431.1 413.3,432.3 410.9,433.2 C408.4,434.1 404.6,434.3 401.7,435.1 C398.8,435.9 395.8,437.0 393.5,437.8 C391.2,438.6 388.9,439.4 388.0,439.7" fill="none" stroke="#f59cc2" stroke-width="0.7" stroke-linejoin="round"/>
<path d="M388.0,416.7 C388.9,417.5 391.2,419.3 393.5,421.3 C395.8,423.3 399.1,427.2 401.7,428.7 C404.3,430.2 407.1,429.9 409.1,430.5 C411.1,431.1 412.9,432.0 413.7,432.3" fill="none" stroke="#f59cc2" stroke-width="0.7" stroke-linejoin="round"/>
<path d="M393.5,441.5 C394.9,441.2 398.8,440.8 401.7,439.7 C404.6,438.6 408.8,436.0 410.9,435.1 C413.0,434.2 414.0,434.4 414.6,434.2" fill="none" stroke="#f59cc2" stroke-width="0.7" stroke-linejoin="round"/>
<ellipse cx="416" cy="431.3" rx="2.4" ry="1.6" fill="#1a0508" transform="rotate(-40 416 431.3)"/><circle cx="415.6" cy="431.6" r="0.75" fill="#e01850"/>
<circle cx="406.8" cy="422.2" r="6.0" fill="none" stroke="#3558a8" stroke-width="1.6" stroke-dasharray="1.4 1.85"/>
<line x1="340.7" y1="405.8" x2="440.79999999999995" y2="405.8" stroke="#000" stroke-width="1.8" stroke-dasharray="4.5 1.55"/>
<line x1="390.6" y1="354.0" x2="390.6" y2="453.8" stroke="#000" stroke-width="1.8" stroke-dasharray="4.5 1.55"/>
<rect x="341.5" y="356.3" width="7" height="1.5" fill="#c89020" opacity="0.85"/>
</g>
<clipPath id="clip2"><rect x="445.2" y="353.4" width="101.0" height="101.0"/></clipPath>
<g clip-path="url(#clip2)">
<rect x="445.2" y="353.4" width="51.0" height="51.0" fill="#1c1c1c"/>
<rect x="495.7" y="353.4" width="50.5" height="51.0" fill="#3a3c3a"/>
<rect x="445.2" y="403.9" width="51.0" height="50.5" fill="#2a2e2a"/>
<rect x="495.7" y="403.9" width="50.5" height="50.5" fill="#929292"/>
<circle cx="495.6" cy="403.9" r="52.5" fill="url(#rimlin)"/>
<circle cx="495.6" cy="403.9" r="52.5" fill="url(#rim)"/>
<circle cx="495.6" cy="403.9" r="52.0" fill="none" stroke="#c4c4c4" stroke-width="0.6" opacity="0.8"/>
<circle cx="495.6" cy="404.7" r="45.5" fill="url(#surf)"/>
<path d="M480.1,368.7 C479.8,368.9 478.6,369.3 478.2,370.1 C477.8,370.9 477.5,372.5 477.8,373.7 C478.1,374.9 478.8,376.2 480.1,377.4 C481.4,378.6 483.6,380.0 485.6,381.1 C487.6,382.2 490.2,383.4 492.0,384.3 C493.8,385.2 495.4,385.6 496.6,386.6 C497.8,387.6 498.5,388.7 499.3,390.2 C500.1,391.7 500.7,393.9 501.2,395.7 C501.7,397.5 501.8,399.6 502.1,401.2 C502.4,402.8 502.9,404.4 503.0,405.0" fill="none" stroke="#f59cc2" stroke-width="0.7" stroke-linejoin="round"/>
<path d="M486.0,398.5 C485.6,399.3 484.2,402.0 483.7,403.1 C483.2,404.2 483.1,404.2 482.8,405.0 C482.5,405.8 482.1,407.5 482.0,408.0" fill="none" stroke="#f59cc2" stroke-width="0.7" stroke-linejoin="round"/>
<path d="M500.3,395.0 C500.6,396.0 501.5,399.4 502.3,401.1 C503.1,402.8 504.4,403.8 505.4,405.2 C506.4,406.6 507.4,407.9 508.4,409.3 C509.4,410.7 510.3,412.8 511.5,413.3 C512.7,413.8 514.3,413.3 515.5,412.3 C516.7,411.3 517.9,409.1 518.6,407.2 C519.3,405.3 519.8,402.8 519.6,401.1 C519.4,399.4 518.3,397.0 517.6,397.0 C516.9,397.0 516.0,399.1 515.5,401.1 C515.0,403.2 514.8,407.1 514.5,409.3 C514.2,411.5 513.7,413.5 513.5,414.3" fill="none" stroke="#f59cc2" stroke-width="0.7" stroke-linejoin="round"/>
<path d="M504.3,408.2 C505.3,408.7 508.6,411.1 510.5,411.3 C512.4,411.5 513.8,409.3 515.5,409.3 C517.2,409.3 519.4,410.1 520.6,411.3 C521.8,412.5 522.7,414.9 522.7,416.4 C522.7,417.9 521.8,419.6 520.6,420.5 C519.4,421.4 517.2,421.9 515.5,421.5 C513.8,421.1 511.3,418.9 510.5,418.4" fill="none" stroke="#f59cc2" stroke-width="0.7" stroke-linejoin="round"/>
<path d="M485.0,413.3 C486.0,413.8 489.4,416.0 491.1,416.4 C492.8,416.8 493.8,416.1 495.2,415.4 C496.6,414.7 497.9,413.3 499.3,412.3 C500.7,411.3 502.6,409.8 503.3,409.3" fill="none" stroke="#f59cc2" stroke-width="0.7" stroke-linejoin="round"/>
<path d="M496.2,433.7 C497.1,433.2 499.3,431.5 501.3,430.6 C503.3,429.8 506.2,428.2 508.4,428.6 C510.6,429.0 512.8,431.9 514.5,432.7 C516.2,433.5 517.2,434.2 518.6,433.7 C520.0,433.2 521.5,431.0 522.7,429.6 C523.9,428.2 525.0,426.9 525.7,425.5 C526.4,424.1 527.1,422.9 526.8,421.5 C526.5,420.1 524.2,418.1 523.7,417.4" fill="none" stroke="#f59cc2" stroke-width="0.7" stroke-linejoin="round"/>
<path d="M521.7,418.4 C522.4,419.2 525.2,421.8 525.7,423.5 C526.2,425.2 525.6,427.2 524.7,428.6 C523.9,430.0 522.1,430.9 520.6,431.7 C519.1,432.5 517.0,434.0 515.5,433.7 C514.0,433.4 512.2,430.3 511.5,429.6" fill="none" stroke="#f59cc2" stroke-width="0.7" stroke-linejoin="round"/>
<path d="M502.0,403.0 C502.5,402.9 504.0,402.0 504.8,402.2 C505.6,402.4 506.4,403.7 506.7,404.0" fill="none" stroke="#f59cc2" stroke-width="0.7" stroke-linejoin="round"/>
<path d="M506.0,415.0 C505.5,416.0 503.2,418.8 503.0,421.0 C502.8,423.2 503.7,426.3 505.0,428.0 C506.3,429.7 509.0,431.0 511.0,431.0 C513.0,431.0 515.7,429.7 517.0,428.0 C518.3,426.3 519.2,423.2 519.0,421.0 C518.8,418.8 517.5,416.3 516.0,415.0 C514.5,413.7 511.7,412.7 510.0,413.0 C508.3,413.3 506.7,416.3 506.0,417.0" fill="none" stroke="#f59cc2" stroke-width="0.7" stroke-linejoin="round"/>
<path d="M498.0,420.0 C498.3,419.0 498.5,415.7 500.0,414.0 C501.5,412.3 504.5,411.0 507.0,410.0 C509.5,409.0 512.5,407.8 515.0,408.0 C517.5,408.2 520.2,409.3 522.0,411.0 C523.8,412.7 525.7,415.5 526.0,418.0 C526.3,420.5 525.3,423.7 524.0,426.0 C522.7,428.3 520.0,430.5 518.0,432.0 C516.0,433.5 514.2,434.8 512.0,435.0 C509.8,435.2 507.0,434.2 505.0,433.0 C503.0,431.8 500.8,428.8 500.0,428.0" fill="none" stroke="#f59cc2" stroke-width="0.7" stroke-linejoin="round"/>
<path d="M513.0,417.0 C514.2,416.5 517.7,414.2 520.0,414.0 C522.3,413.8 525.7,414.7 527.0,416.0 C528.3,417.3 528.7,420.0 528.0,422.0 C527.3,424.0 523.8,427.0 523.0,428.0" fill="none" stroke="#f59cc2" stroke-width="0.7" stroke-linejoin="round"/>
<path d="M509.0,405.0 C509.5,404.0 510.8,400.5 512.0,399.0 C513.2,397.5 514.7,396.0 516.0,396.0 C517.3,396.0 519.2,397.5 520.0,399.0 C520.8,400.5 521.3,403.2 521.0,405.0 C520.7,406.8 518.5,409.2 518.0,410.0" fill="none" stroke="#f59cc2" stroke-width="0.7" stroke-linejoin="round"/>
<path d="M494.0,424.0 C494.8,424.5 497.5,426.8 499.0,427.0 C500.5,427.2 502.3,425.3 503.0,425.0" fill="none" stroke="#f59cc2" stroke-width="0.7" stroke-linejoin="round"/>
<circle cx="486.5" cy="397.6" r="0.9" fill="#f0508a"/>
<circle cx="511.0" cy="424.0" r="6.4" fill="none" stroke="#3558a8" stroke-width="1.6" stroke-dasharray="1.4 1.85"/>
<line x1="445.2" y1="406.2" x2="546.2" y2="406.2" stroke="#000" stroke-width="1.8" stroke-dasharray="4.5 1.55"/>
<line x1="495.0" y1="353.4" x2="495.0" y2="454.4" stroke="#000" stroke-width="1.8" stroke-dasharray="4.5 1.55"/>
<rect x="446.0" y="355.7" width="8.5" height="1.5" fill="#c89020" opacity="0.85"/>
</g>
</svg></body></html>
